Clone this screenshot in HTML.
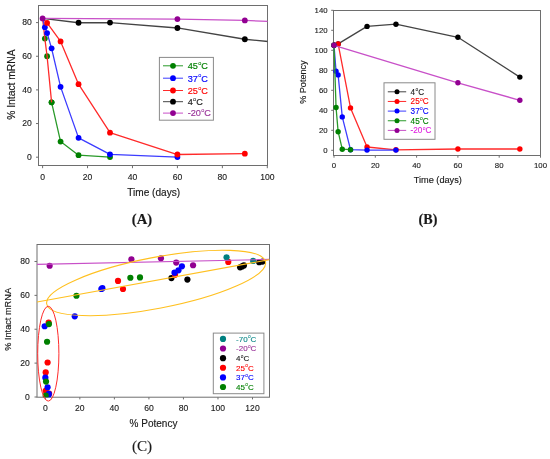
<!DOCTYPE html>
<html><head><meta charset="utf-8"><title>Figure</title>
<style>html,body{margin:0;padding:0;background:#fff;}body{width:550px;height:459px;overflow:hidden;}svg{display:block;}</style>
</head><body>
<svg width="550" height="459" viewBox="0 0 550 459">
<rect width="550" height="459" fill="#fff"/>
<g>
<g>
<defs><clipPath id="clipA"><rect x="38.5" y="5.5" width="229" height="160"/></clipPath></defs>
<rect x="38.5" y="5.5" width="229" height="160" fill="none" stroke="#6e6e6e" stroke-width="1"/>
<line x1="36" y1="157.2" x2="38.5" y2="157.2" stroke="#6e6e6e" stroke-width="1"/>
<text x="31.8" y="159.87" font-size="8.6" fill="#1a1a1a" stroke="#1a1a1a" stroke-width="0.12" text-anchor="end" font-family="'Liberation Sans', Arial, sans-serif" >0</text>
<line x1="36" y1="123.55" x2="38.5" y2="123.55" stroke="#6e6e6e" stroke-width="1"/>
<text x="31.8" y="126.22" font-size="8.6" fill="#1a1a1a" stroke="#1a1a1a" stroke-width="0.12" text-anchor="end" font-family="'Liberation Sans', Arial, sans-serif" >20</text>
<line x1="36" y1="89.9" x2="38.5" y2="89.9" stroke="#6e6e6e" stroke-width="1"/>
<text x="31.8" y="92.57" font-size="8.6" fill="#1a1a1a" stroke="#1a1a1a" stroke-width="0.12" text-anchor="end" font-family="'Liberation Sans', Arial, sans-serif" >40</text>
<line x1="36" y1="56.25" x2="38.5" y2="56.25" stroke="#6e6e6e" stroke-width="1"/>
<text x="31.8" y="58.92" font-size="8.6" fill="#1a1a1a" stroke="#1a1a1a" stroke-width="0.12" text-anchor="end" font-family="'Liberation Sans', Arial, sans-serif" >60</text>
<line x1="36" y1="22.6" x2="38.5" y2="22.6" stroke="#6e6e6e" stroke-width="1"/>
<text x="31.8" y="25.27" font-size="8.6" fill="#1a1a1a" stroke="#1a1a1a" stroke-width="0.12" text-anchor="end" font-family="'Liberation Sans', Arial, sans-serif" >80</text>
<line x1="42.6" y1="165.5" x2="42.6" y2="168.2" stroke="#6e6e6e" stroke-width="1"/>
<text x="42.6" y="180.1" font-size="8.6" fill="#1a1a1a" stroke="#1a1a1a" stroke-width="0.12" text-anchor="middle" font-family="'Liberation Sans', Arial, sans-serif" >0</text>
<line x1="87.54" y1="165.5" x2="87.54" y2="168.2" stroke="#6e6e6e" stroke-width="1"/>
<text x="87.54" y="180.1" font-size="8.6" fill="#1a1a1a" stroke="#1a1a1a" stroke-width="0.12" text-anchor="middle" font-family="'Liberation Sans', Arial, sans-serif" >20</text>
<line x1="132.48" y1="165.5" x2="132.48" y2="168.2" stroke="#6e6e6e" stroke-width="1"/>
<text x="132.48" y="180.1" font-size="8.6" fill="#1a1a1a" stroke="#1a1a1a" stroke-width="0.12" text-anchor="middle" font-family="'Liberation Sans', Arial, sans-serif" >40</text>
<line x1="177.42" y1="165.5" x2="177.42" y2="168.2" stroke="#6e6e6e" stroke-width="1"/>
<text x="177.42" y="180.1" font-size="8.6" fill="#1a1a1a" stroke="#1a1a1a" stroke-width="0.12" text-anchor="middle" font-family="'Liberation Sans', Arial, sans-serif" >60</text>
<line x1="222.36" y1="165.5" x2="222.36" y2="168.2" stroke="#6e6e6e" stroke-width="1"/>
<text x="222.36" y="180.1" font-size="8.6" fill="#1a1a1a" stroke="#1a1a1a" stroke-width="0.12" text-anchor="middle" font-family="'Liberation Sans', Arial, sans-serif" >80</text>
<line x1="267.3" y1="165.5" x2="267.3" y2="168.2" stroke="#6e6e6e" stroke-width="1"/>
<text x="267.3" y="180.1" font-size="8.6" fill="#1a1a1a" stroke="#1a1a1a" stroke-width="0.12" text-anchor="middle" font-family="'Liberation Sans', Arial, sans-serif" >100</text>
<text x="153.7" y="196.3" font-size="10.1" fill="#1a1a1a" stroke="#1a1a1a" stroke-width="0.15" text-anchor="middle" font-family="'Liberation Sans', Arial, sans-serif" >Time (days)</text>
<text transform="translate(14.7 84.6) rotate(-90)" font-size="10.3" fill="#1a1a1a" stroke="#1a1a1a" stroke-width="0.15" text-anchor="middle" font-family="'Liberation Sans', Arial, sans-serif">% Intact mRNA</text>
<text x="142" y="224.2" font-size="14.6" fill="#1a1a1a" stroke="#1a1a1a" stroke-width="0.15" text-anchor="middle" font-family="'Liberation Serif', 'Times New Roman', serif" font-weight="bold">(A)</text>
<g clip-path="url(#clipA)">
<polyline points="51.59,102.35 60.58,141.55 78.55,155.18 110.01,157.03" fill="none" stroke="#2a9a2a" stroke-width="1.3" stroke-linejoin="round" />
<circle cx="44.85" cy="38.58" r="2.9" fill="#008000"/>
<circle cx="47.09" cy="56.25" r="2.9" fill="#008000"/>
<circle cx="51.59" cy="102.35" r="2.9" fill="#008000"/>
<circle cx="51.59" cy="102.35" r="2.9" fill="#008000"/>
<circle cx="60.58" cy="141.55" r="2.9" fill="#008000"/>
<circle cx="78.55" cy="155.18" r="2.9" fill="#008000"/>
<circle cx="110.01" cy="157.03" r="2.9" fill="#008000"/>
<polyline points="42.6,18.39 44.85,38.58 47.09,56.25 51.59,102.35" fill="none" stroke="#ff2a2a" stroke-width="1.3" stroke-linejoin="round" />
<polyline points="42.6,18.39 44.85,27.31 47.09,33.03 51.59,48.34 60.58,86.87 78.55,137.85 110.01,154.34 177.42,157.03" fill="none" stroke="#3c3cff" stroke-width="1.3" stroke-linejoin="round" />
<circle cx="44.85" cy="27.31" r="2.9" fill="#0000ff"/>
<circle cx="47.09" cy="33.03" r="2.9" fill="#0000ff"/>
<circle cx="51.59" cy="48.34" r="2.9" fill="#0000ff"/>
<circle cx="60.58" cy="86.87" r="2.9" fill="#0000ff"/>
<circle cx="78.55" cy="137.85" r="2.9" fill="#0000ff"/>
<circle cx="110.01" cy="154.34" r="2.9" fill="#0000ff"/>
<circle cx="177.42" cy="157.03" r="2.9" fill="#0000ff"/>
<polyline points="42.6,18.39 47.09,22.94 60.58,41.44 78.55,84.18 110.01,132.64 177.42,154.51 244.83,153.67" fill="none" stroke="#ff2a2a" stroke-width="1.3" stroke-linejoin="round" />
<circle cx="47.09" cy="22.94" r="2.9" fill="#ff0000"/>
<circle cx="60.58" cy="41.44" r="2.9" fill="#ff0000"/>
<circle cx="78.55" cy="84.18" r="2.9" fill="#ff0000"/>
<circle cx="110.01" cy="132.64" r="2.9" fill="#ff0000"/>
<circle cx="177.42" cy="154.51" r="2.9" fill="#ff0000"/>
<circle cx="244.83" cy="153.67" r="2.9" fill="#ff0000"/>
<polyline points="42.6,18.39 78.55,22.77 110.01,22.6 177.42,27.98 244.83,39.26 312.24,45.82" fill="none" stroke="#444444" stroke-width="1.3" stroke-linejoin="round" />
<circle cx="78.55" cy="22.77" r="2.9" fill="#000000"/>
<circle cx="110.01" cy="22.6" r="2.9" fill="#000000"/>
<circle cx="177.42" cy="27.98" r="2.9" fill="#000000"/>
<circle cx="244.83" cy="39.26" r="2.9" fill="#000000"/>
<polyline points="42.6,18.39 177.42,19.07 244.83,20.41 312.24,23.1" fill="none" stroke="#c850c8" stroke-width="1.3" stroke-linejoin="round" />
<circle cx="42.6" cy="18.39" r="2.9" fill="#920092"/>
<circle cx="177.42" cy="19.07" r="2.9" fill="#920092"/>
<circle cx="244.83" cy="20.41" r="2.9" fill="#920092"/>
</g>
<rect x="159.4" y="57.4" width="54" height="62.8" fill="#fff" stroke="#8a8a8a" stroke-width="1"/>
<line x1="163" y1="65.8" x2="183" y2="65.8" stroke="#2a9a2a" stroke-width="1"/>
<circle cx="173" cy="65.8" r="2.9" fill="#008000"/>
<text x="187.7" y="69.1" font-size="9.2" fill="#008000" stroke="#008000" stroke-width="0.15" text-anchor="start" font-family="'Liberation Sans', Arial, sans-serif" >45<tspan font-size="5.52" stroke-width="0.05" dx="0.28" dy="-4.05">o</tspan><tspan dx="0" dy="4.05">C</tspan></text>
<line x1="163" y1="78.2" x2="183" y2="78.2" stroke="#3c3cff" stroke-width="1"/>
<circle cx="173" cy="78.2" r="2.9" fill="#0000ff"/>
<text x="187.7" y="81.5" font-size="9.2" fill="#0000ff" stroke="#0000ff" stroke-width="0.15" text-anchor="start" font-family="'Liberation Sans', Arial, sans-serif" >37<tspan font-size="5.52" stroke-width="0.05" dx="0.28" dy="-4.05">o</tspan><tspan dx="0" dy="4.05">C</tspan></text>
<line x1="163" y1="90.5" x2="183" y2="90.5" stroke="#ff2a2a" stroke-width="1"/>
<circle cx="173" cy="90.5" r="2.9" fill="#ff0000"/>
<text x="187.7" y="93.8" font-size="9.2" fill="#ff0000" stroke="#ff0000" stroke-width="0.15" text-anchor="start" font-family="'Liberation Sans', Arial, sans-serif" >25<tspan font-size="5.52" stroke-width="0.05" dx="0.28" dy="-4.05">o</tspan><tspan dx="0" dy="4.05">C</tspan></text>
<line x1="163" y1="101.7" x2="183" y2="101.7" stroke="#444444" stroke-width="1"/>
<circle cx="173" cy="101.7" r="2.9" fill="#000000"/>
<text x="187.7" y="105" font-size="9.2" fill="#1a1a1a" stroke="#1a1a1a" stroke-width="0.15" text-anchor="start" font-family="'Liberation Sans', Arial, sans-serif" >4<tspan font-size="5.52" stroke-width="0.05" dx="0.28" dy="-4.05">o</tspan><tspan dx="0" dy="4.05">C</tspan></text>
<line x1="163" y1="113.1" x2="183" y2="113.1" stroke="#c850c8" stroke-width="1"/>
<circle cx="173" cy="113.1" r="2.9" fill="#920092"/>
<text x="187.7" y="116.4" font-size="9.2" fill="#993399" stroke="#993399" stroke-width="0.15" text-anchor="start" font-family="'Liberation Sans', Arial, sans-serif" >-20<tspan font-size="5.52" stroke-width="0.05" dx="0.28" dy="-4.05">o</tspan><tspan dx="0" dy="4.05">C</tspan></text>
</g>
<g>
<rect x="333.5" y="10.5" width="207" height="145" fill="none" stroke="#6e6e6e" stroke-width="1"/>
<line x1="331.2" y1="150.3" x2="333.5" y2="150.3" stroke="#6e6e6e" stroke-width="1"/>
<text x="327.6" y="153.11" font-size="7.8" fill="#1a1a1a" stroke="#1a1a1a" stroke-width="0.12" text-anchor="end" font-family="'Liberation Sans', Arial, sans-serif" >0</text>
<line x1="331.2" y1="130.3" x2="333.5" y2="130.3" stroke="#6e6e6e" stroke-width="1"/>
<text x="327.6" y="133.11" font-size="7.8" fill="#1a1a1a" stroke="#1a1a1a" stroke-width="0.12" text-anchor="end" font-family="'Liberation Sans', Arial, sans-serif" >20</text>
<line x1="331.2" y1="110.3" x2="333.5" y2="110.3" stroke="#6e6e6e" stroke-width="1"/>
<text x="327.6" y="113.11" font-size="7.8" fill="#1a1a1a" stroke="#1a1a1a" stroke-width="0.12" text-anchor="end" font-family="'Liberation Sans', Arial, sans-serif" >40</text>
<line x1="331.2" y1="90.3" x2="333.5" y2="90.3" stroke="#6e6e6e" stroke-width="1"/>
<text x="327.6" y="93.11" font-size="7.8" fill="#1a1a1a" stroke="#1a1a1a" stroke-width="0.12" text-anchor="end" font-family="'Liberation Sans', Arial, sans-serif" >60</text>
<line x1="331.2" y1="70.3" x2="333.5" y2="70.3" stroke="#6e6e6e" stroke-width="1"/>
<text x="327.6" y="73.11" font-size="7.8" fill="#1a1a1a" stroke="#1a1a1a" stroke-width="0.12" text-anchor="end" font-family="'Liberation Sans', Arial, sans-serif" >80</text>
<line x1="331.2" y1="50.3" x2="333.5" y2="50.3" stroke="#6e6e6e" stroke-width="1"/>
<text x="327.6" y="53.11" font-size="7.8" fill="#1a1a1a" stroke="#1a1a1a" stroke-width="0.12" text-anchor="end" font-family="'Liberation Sans', Arial, sans-serif" >100</text>
<line x1="331.2" y1="30.3" x2="333.5" y2="30.3" stroke="#6e6e6e" stroke-width="1"/>
<text x="327.6" y="33.11" font-size="7.8" fill="#1a1a1a" stroke="#1a1a1a" stroke-width="0.12" text-anchor="end" font-family="'Liberation Sans', Arial, sans-serif" >120</text>
<line x1="331.2" y1="10.3" x2="333.5" y2="10.3" stroke="#6e6e6e" stroke-width="1"/>
<text x="327.6" y="13.11" font-size="7.8" fill="#1a1a1a" stroke="#1a1a1a" stroke-width="0.12" text-anchor="end" font-family="'Liberation Sans', Arial, sans-serif" >140</text>
<line x1="334" y1="155.5" x2="334" y2="157.7" stroke="#6e6e6e" stroke-width="1"/>
<text x="334" y="168.1" font-size="7.8" fill="#1a1a1a" stroke="#1a1a1a" stroke-width="0.12" text-anchor="middle" font-family="'Liberation Sans', Arial, sans-serif" >0</text>
<line x1="375.3" y1="155.5" x2="375.3" y2="157.7" stroke="#6e6e6e" stroke-width="1"/>
<text x="375.3" y="168.1" font-size="7.8" fill="#1a1a1a" stroke="#1a1a1a" stroke-width="0.12" text-anchor="middle" font-family="'Liberation Sans', Arial, sans-serif" >20</text>
<line x1="416.6" y1="155.5" x2="416.6" y2="157.7" stroke="#6e6e6e" stroke-width="1"/>
<text x="416.6" y="168.1" font-size="7.8" fill="#1a1a1a" stroke="#1a1a1a" stroke-width="0.12" text-anchor="middle" font-family="'Liberation Sans', Arial, sans-serif" >40</text>
<line x1="457.9" y1="155.5" x2="457.9" y2="157.7" stroke="#6e6e6e" stroke-width="1"/>
<text x="457.9" y="168.1" font-size="7.8" fill="#1a1a1a" stroke="#1a1a1a" stroke-width="0.12" text-anchor="middle" font-family="'Liberation Sans', Arial, sans-serif" >60</text>
<line x1="499.2" y1="155.5" x2="499.2" y2="157.7" stroke="#6e6e6e" stroke-width="1"/>
<text x="499.2" y="168.1" font-size="7.8" fill="#1a1a1a" stroke="#1a1a1a" stroke-width="0.12" text-anchor="middle" font-family="'Liberation Sans', Arial, sans-serif" >80</text>
<line x1="540.5" y1="155.5" x2="540.5" y2="157.7" stroke="#6e6e6e" stroke-width="1"/>
<text x="540.5" y="168.1" font-size="7.8" fill="#1a1a1a" stroke="#1a1a1a" stroke-width="0.12" text-anchor="middle" font-family="'Liberation Sans', Arial, sans-serif" >100</text>
<text x="437.8" y="183" font-size="9.2" fill="#1a1a1a" stroke="#1a1a1a" stroke-width="0.15" text-anchor="middle" font-family="'Liberation Sans', Arial, sans-serif" >Time (days)</text>
<text transform="translate(306 82.1) rotate(-90)" font-size="9.1" fill="#1a1a1a" stroke="#1a1a1a" stroke-width="0.15" text-anchor="middle" font-family="'Liberation Sans', Arial, sans-serif">% Potency</text>
<text x="428" y="224.2" font-size="14.1" fill="#1a1a1a" stroke="#1a1a1a" stroke-width="0.15" text-anchor="middle" font-family="'Liberation Serif', 'Times New Roman', serif" font-weight="bold">(B)</text>
<polyline points="334,45.3 338.13,43.9 367.04,26.4 395.95,24.2 457.9,37.3 519.85,77.1" fill="none" stroke="#444444" stroke-width="1.3" stroke-linejoin="round" />
<circle cx="334" cy="45.3" r="2.7" fill="#000000"/>
<circle cx="338.13" cy="43.9" r="2.7" fill="#000000"/>
<circle cx="367.04" cy="26.4" r="2.7" fill="#000000"/>
<circle cx="395.95" cy="24.2" r="2.7" fill="#000000"/>
<circle cx="457.9" cy="37.3" r="2.7" fill="#000000"/>
<circle cx="519.85" cy="77.1" r="2.7" fill="#000000"/>
<polyline points="334,45.3 338.13,43.9 350.52,107.9 367.04,147 395.95,149.8 457.9,149 519.85,149" fill="none" stroke="#ff2a2a" stroke-width="1.3" stroke-linejoin="round" />
<circle cx="334" cy="45.3" r="2.7" fill="#ff0000"/>
<circle cx="338.13" cy="43.9" r="2.7" fill="#ff0000"/>
<circle cx="350.52" cy="107.9" r="2.7" fill="#ff0000"/>
<circle cx="367.04" cy="147" r="2.7" fill="#ff0000"/>
<circle cx="395.95" cy="149.8" r="2.7" fill="#ff0000"/>
<circle cx="457.9" cy="149" r="2.7" fill="#ff0000"/>
<circle cx="519.85" cy="149" r="2.7" fill="#ff0000"/>
<polyline points="334,45.3 336.06,71.2 338.13,74.9 342.26,116.9 350.52,149.7 367.04,150.1 395.95,150.1" fill="none" stroke="#3c3cff" stroke-width="1.3" stroke-linejoin="round" />
<circle cx="334" cy="45.3" r="2.7" fill="#0000ff"/>
<circle cx="336.06" cy="71.2" r="2.7" fill="#0000ff"/>
<circle cx="338.13" cy="74.9" r="2.7" fill="#0000ff"/>
<circle cx="342.26" cy="116.9" r="2.7" fill="#0000ff"/>
<circle cx="350.52" cy="149.7" r="2.7" fill="#0000ff"/>
<circle cx="367.04" cy="150.1" r="2.7" fill="#0000ff"/>
<circle cx="395.95" cy="150.1" r="2.7" fill="#0000ff"/>
<polyline points="334,45.3 336.06,107.5 338.13,131.7 342.26,149.2 350.52,149.7" fill="none" stroke="#2a9a2a" stroke-width="1.3" stroke-linejoin="round" />
<circle cx="334" cy="45.3" r="2.7" fill="#008000"/>
<circle cx="336.06" cy="107.5" r="2.7" fill="#008000"/>
<circle cx="338.13" cy="131.7" r="2.7" fill="#008000"/>
<circle cx="342.26" cy="149.2" r="2.7" fill="#008000"/>
<circle cx="350.52" cy="149.7" r="2.7" fill="#008000"/>
<polyline points="334,45.3 457.9,82.8 519.85,100.3" fill="none" stroke="#c850c8" stroke-width="1.3" stroke-linejoin="round" />
<circle cx="334" cy="45.3" r="2.7" fill="#920092"/>
<circle cx="457.9" cy="82.8" r="2.7" fill="#920092"/>
<circle cx="519.85" cy="100.3" r="2.7" fill="#920092"/>
<rect x="384" y="82.8" width="51" height="56.5" fill="#fff" stroke="#8a8a8a" stroke-width="1"/>
<line x1="387.8" y1="91.8" x2="406.2" y2="91.8" stroke="#444444" stroke-width="1"/>
<circle cx="397" cy="91.8" r="2.5" fill="#000000"/>
<text x="410.6" y="94.7" font-size="8.2" fill="#1a1a1a" stroke="#1a1a1a" stroke-width="0.12" text-anchor="start" font-family="'Liberation Sans', Arial, sans-serif" >4<tspan font-size="4.92" stroke-width="0.05" dx="0.25" dy="-3.61">o</tspan><tspan dx="0" dy="3.61">C</tspan></text>
<line x1="387.8" y1="101.45" x2="406.2" y2="101.45" stroke="#ff2a2a" stroke-width="1"/>
<circle cx="397" cy="101.45" r="2.5" fill="#ff0000"/>
<text x="410.6" y="104.35" font-size="8.2" fill="#ff0000" stroke="#ff0000" stroke-width="0.12" text-anchor="start" font-family="'Liberation Sans', Arial, sans-serif" >25<tspan font-size="4.92" stroke-width="0.05" dx="0.25" dy="-3.61">o</tspan><tspan dx="0" dy="3.61">C</tspan></text>
<line x1="387.8" y1="111.1" x2="406.2" y2="111.1" stroke="#3c3cff" stroke-width="1"/>
<circle cx="397" cy="111.1" r="2.5" fill="#0000ff"/>
<text x="410.6" y="114" font-size="8.2" fill="#0000ff" stroke="#0000ff" stroke-width="0.12" text-anchor="start" font-family="'Liberation Sans', Arial, sans-serif" >37<tspan font-size="4.92" stroke-width="0.05" dx="0.25" dy="-3.61">o</tspan><tspan dx="0" dy="3.61">C</tspan></text>
<line x1="387.8" y1="120.75" x2="406.2" y2="120.75" stroke="#2a9a2a" stroke-width="1"/>
<circle cx="397" cy="120.75" r="2.5" fill="#008000"/>
<text x="410.6" y="123.65" font-size="8.2" fill="#008000" stroke="#008000" stroke-width="0.12" text-anchor="start" font-family="'Liberation Sans', Arial, sans-serif" >45<tspan font-size="4.92" stroke-width="0.05" dx="0.25" dy="-3.61">o</tspan><tspan dx="0" dy="3.61">C</tspan></text>
<line x1="387.8" y1="130.4" x2="406.2" y2="130.4" stroke="#c850c8" stroke-width="1"/>
<circle cx="397" cy="130.4" r="2.5" fill="#920092"/>
<text x="410.6" y="133.3" font-size="8.2" fill="#e020e0" stroke="#e020e0" stroke-width="0.12" text-anchor="start" font-family="'Liberation Sans', Arial, sans-serif" >-20<tspan font-size="4.92" stroke-width="0.05" dx="0.25" dy="-3.61">o</tspan><tspan dx="0" dy="3.61">C</tspan></text>
</g>
<g>
<defs><clipPath id="clipC"><rect x="37" y="244.5" width="232.5" height="152.7"/></clipPath></defs>
<rect x="37" y="244.5" width="232.5" height="152.7" fill="none" stroke="#6e6e6e" stroke-width="1"/>
<line x1="34.5" y1="397" x2="37" y2="397" stroke="#6e6e6e" stroke-width="1"/>
<text x="29.8" y="399.67" font-size="8.6" fill="#1a1a1a" stroke="#1a1a1a" stroke-width="0.12" text-anchor="end" font-family="'Liberation Sans', Arial, sans-serif" >0</text>
<line x1="34.5" y1="363.12" x2="37" y2="363.12" stroke="#6e6e6e" stroke-width="1"/>
<text x="29.8" y="365.79" font-size="8.6" fill="#1a1a1a" stroke="#1a1a1a" stroke-width="0.12" text-anchor="end" font-family="'Liberation Sans', Arial, sans-serif" >20</text>
<line x1="34.5" y1="329.24" x2="37" y2="329.24" stroke="#6e6e6e" stroke-width="1"/>
<text x="29.8" y="331.91" font-size="8.6" fill="#1a1a1a" stroke="#1a1a1a" stroke-width="0.12" text-anchor="end" font-family="'Liberation Sans', Arial, sans-serif" >40</text>
<line x1="34.5" y1="295.36" x2="37" y2="295.36" stroke="#6e6e6e" stroke-width="1"/>
<text x="29.8" y="298.03" font-size="8.6" fill="#1a1a1a" stroke="#1a1a1a" stroke-width="0.12" text-anchor="end" font-family="'Liberation Sans', Arial, sans-serif" >60</text>
<line x1="34.5" y1="261.48" x2="37" y2="261.48" stroke="#6e6e6e" stroke-width="1"/>
<text x="29.8" y="264.15" font-size="8.6" fill="#1a1a1a" stroke="#1a1a1a" stroke-width="0.12" text-anchor="end" font-family="'Liberation Sans', Arial, sans-serif" >80</text>
<line x1="45.31" y1="397.2" x2="45.31" y2="399.4" stroke="#6e6e6e" stroke-width="1"/>
<text x="45.31" y="411.4" font-size="8.6" fill="#1a1a1a" stroke="#1a1a1a" stroke-width="0.12" text-anchor="middle" font-family="'Liberation Sans', Arial, sans-serif" >0</text>
<line x1="79.84" y1="397.2" x2="79.84" y2="399.4" stroke="#6e6e6e" stroke-width="1"/>
<text x="79.84" y="411.4" font-size="8.6" fill="#1a1a1a" stroke="#1a1a1a" stroke-width="0.12" text-anchor="middle" font-family="'Liberation Sans', Arial, sans-serif" >20</text>
<line x1="114.38" y1="397.2" x2="114.38" y2="399.4" stroke="#6e6e6e" stroke-width="1"/>
<text x="114.38" y="411.4" font-size="8.6" fill="#1a1a1a" stroke="#1a1a1a" stroke-width="0.12" text-anchor="middle" font-family="'Liberation Sans', Arial, sans-serif" >40</text>
<line x1="148.91" y1="397.2" x2="148.91" y2="399.4" stroke="#6e6e6e" stroke-width="1"/>
<text x="148.91" y="411.4" font-size="8.6" fill="#1a1a1a" stroke="#1a1a1a" stroke-width="0.12" text-anchor="middle" font-family="'Liberation Sans', Arial, sans-serif" >60</text>
<line x1="183.45" y1="397.2" x2="183.45" y2="399.4" stroke="#6e6e6e" stroke-width="1"/>
<text x="183.45" y="411.4" font-size="8.6" fill="#1a1a1a" stroke="#1a1a1a" stroke-width="0.12" text-anchor="middle" font-family="'Liberation Sans', Arial, sans-serif" >80</text>
<line x1="217.98" y1="397.2" x2="217.98" y2="399.4" stroke="#6e6e6e" stroke-width="1"/>
<text x="217.98" y="411.4" font-size="8.6" fill="#1a1a1a" stroke="#1a1a1a" stroke-width="0.12" text-anchor="middle" font-family="'Liberation Sans', Arial, sans-serif" >100</text>
<line x1="252.51" y1="397.2" x2="252.51" y2="399.4" stroke="#6e6e6e" stroke-width="1"/>
<text x="252.51" y="411.4" font-size="8.6" fill="#1a1a1a" stroke="#1a1a1a" stroke-width="0.12" text-anchor="middle" font-family="'Liberation Sans', Arial, sans-serif" >120</text>
<text x="153.5" y="427.3" font-size="10" fill="#1a1a1a" stroke="#1a1a1a" stroke-width="0.15" text-anchor="middle" font-family="'Liberation Sans', Arial, sans-serif" >% Potency</text>
<text transform="translate(11.4 319.4) rotate(-90)" font-size="9.2" fill="#1a1a1a" stroke="#1a1a1a" stroke-width="0.15" text-anchor="middle" font-family="'Liberation Sans', Arial, sans-serif">% Intact mRNA</text>
<text x="142" y="450.8" font-size="15.2" fill="#1a1a1a" stroke="#1a1a1a" stroke-width="0.15" text-anchor="middle" font-family="'Liberation Serif', 'Times New Roman', serif" >(C)</text>
<g clip-path="url(#clipC)">
<circle cx="171.42" cy="278.07" r="3.1" fill="#000000"/>
<circle cx="187.39" cy="279.59" r="3.1" fill="#000000"/>
<circle cx="240.12" cy="267.29" r="3.1" fill="#000000"/>
<circle cx="242.01" cy="266.44" r="3.1" fill="#000000"/>
<circle cx="243.9" cy="265.43" r="3.1" fill="#000000"/>
<circle cx="259.19" cy="262.23" r="3.1" fill="#000000"/>
<circle cx="262.45" cy="261.56" r="3.1" fill="#000000"/>
<circle cx="118.01" cy="280.94" r="3.1" fill="#ff0000"/>
<circle cx="122.99" cy="289.02" r="3.1" fill="#ff0000"/>
<circle cx="175.03" cy="274.87" r="3.1" fill="#ff0000"/>
<circle cx="228.27" cy="261.89" r="3.1" fill="#ff0000"/>
<circle cx="48.62" cy="322.72" r="3.1" fill="#ff0000"/>
<circle cx="47.59" cy="362.49" r="3.1" fill="#ff0000"/>
<circle cx="45.7" cy="372.43" r="3.1" fill="#ff0000"/>
<circle cx="45.7" cy="390.8" r="3.1" fill="#ff0000"/>
<circle cx="49.14" cy="393.66" r="3.1" fill="#ff0000"/>
<circle cx="49.65" cy="265.77" r="3.1" fill="#920092"/>
<circle cx="131.4" cy="259.37" r="3.1" fill="#920092"/>
<circle cx="160.94" cy="258.36" r="3.1" fill="#920092"/>
<circle cx="176.23" cy="262.57" r="3.1" fill="#920092"/>
<circle cx="193.06" cy="265.26" r="3.1" fill="#920092"/>
<circle cx="226.55" cy="257.34" r="3.1" fill="#008080"/>
<circle cx="253.17" cy="260.88" r="3.1" fill="#008080"/>
<circle cx="74.73" cy="316.32" r="3.1" fill="#0000ff"/>
<circle cx="101.35" cy="289.02" r="3.1" fill="#0000ff"/>
<circle cx="102.38" cy="288.18" r="3.1" fill="#0000ff"/>
<circle cx="174.51" cy="272.68" r="3.1" fill="#0000ff"/>
<circle cx="178.46" cy="270.32" r="3.1" fill="#0000ff"/>
<circle cx="181.9" cy="266.28" r="3.1" fill="#0000ff"/>
<circle cx="44.67" cy="326.26" r="3.1" fill="#0000ff"/>
<circle cx="45.36" cy="377.65" r="3.1" fill="#0000ff"/>
<circle cx="47.59" cy="387.26" r="3.1" fill="#0000ff"/>
<circle cx="48.28" cy="395.51" r="3.1" fill="#0000ff"/>
<circle cx="48.79" cy="393.83" r="3.1" fill="#0000ff"/>
<circle cx="76.44" cy="295.76" r="3.1" fill="#008000"/>
<circle cx="130.37" cy="277.73" r="3.1" fill="#008000"/>
<circle cx="139.99" cy="277.4" r="3.1" fill="#008000"/>
<circle cx="48.96" cy="324.07" r="3.1" fill="#008000"/>
<circle cx="47.07" cy="341.76" r="3.1" fill="#008000"/>
<circle cx="46.04" cy="381.53" r="3.1" fill="#008000"/>
<circle cx="45.7" cy="395.68" r="3.1" fill="#008000"/>
<line x1="37" y1="264.37" x2="269.5" y2="259.4" stroke="#c850c8" stroke-width="1.1"/>
<line x1="37" y1="302.0" x2="269.5" y2="259.63" stroke="#ffc020" stroke-width="1.1"/>
</g>
<ellipse cx="156.1" cy="282.95" rx="111.4" ry="25.5" transform="rotate(-10.9 156.1 282.95)" fill="none" stroke="#ffc020" stroke-width="1.1"/>
<ellipse cx="48.3" cy="353.7" rx="10.6" ry="47.4" fill="none" stroke="#ff2a2a" stroke-width="1"/>
<rect x="213.3" y="333.1" width="50.6" height="60.6" fill="#fff" stroke="#8a8a8a" stroke-width="1"/>
<circle cx="223" cy="338.9" r="3.1" fill="#008080"/>
<text x="236.1" y="341.8" font-size="8" fill="#108a8a" stroke="#108a8a" stroke-width="0.12" text-anchor="start" font-family="'Liberation Sans', Arial, sans-serif" >-70<tspan font-size="4.8" stroke-width="0.05" dx="0.24" dy="-3.52">o</tspan><tspan dx="0" dy="3.52">C</tspan></text>
<circle cx="223" cy="348.52" r="3.1" fill="#920092"/>
<text x="236.1" y="351.42" font-size="8" fill="#993399" stroke="#993399" stroke-width="0.12" text-anchor="start" font-family="'Liberation Sans', Arial, sans-serif" >-20<tspan font-size="4.8" stroke-width="0.05" dx="0.24" dy="-3.52">o</tspan><tspan dx="0" dy="3.52">C</tspan></text>
<circle cx="223" cy="358.14" r="3.1" fill="#000000"/>
<text x="236.1" y="361.04" font-size="8" fill="#1a1a1a" stroke="#1a1a1a" stroke-width="0.12" text-anchor="start" font-family="'Liberation Sans', Arial, sans-serif" >4<tspan font-size="4.8" stroke-width="0.05" dx="0.24" dy="-3.52">o</tspan><tspan dx="0" dy="3.52">C</tspan></text>
<circle cx="223" cy="367.76" r="3.1" fill="#ff0000"/>
<text x="236.1" y="370.66" font-size="8" fill="#ff0000" stroke="#ff0000" stroke-width="0.12" text-anchor="start" font-family="'Liberation Sans', Arial, sans-serif" >25<tspan font-size="4.8" stroke-width="0.05" dx="0.24" dy="-3.52">o</tspan><tspan dx="0" dy="3.52">C</tspan></text>
<circle cx="223" cy="377.38" r="3.1" fill="#0000ff"/>
<text x="236.1" y="380.28" font-size="8" fill="#0000ff" stroke="#0000ff" stroke-width="0.12" text-anchor="start" font-family="'Liberation Sans', Arial, sans-serif" >37<tspan font-size="4.8" stroke-width="0.05" dx="0.24" dy="-3.52">o</tspan><tspan dx="0" dy="3.52">C</tspan></text>
<circle cx="223" cy="387" r="3.1" fill="#008000"/>
<text x="236.1" y="389.9" font-size="8" fill="#008000" stroke="#008000" stroke-width="0.12" text-anchor="start" font-family="'Liberation Sans', Arial, sans-serif" >45<tspan font-size="4.8" stroke-width="0.05" dx="0.24" dy="-3.52">o</tspan><tspan dx="0" dy="3.52">C</tspan></text>
</g>
</g>
</svg>
</body></html>
